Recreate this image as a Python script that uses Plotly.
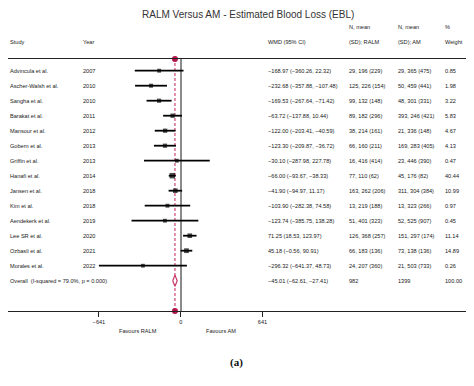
import plotly.graph_objects as go

# ---------------- data ----------------
studies = ["Advincula et al.", "Ascher-Walsh et al.", "Sangha et al.", "Barakat et al.",
           "Mansour et al.", "Gobern et al.", "Griffin et al.", "Hanafi et al.",
           "Jansen et al.", "Kim et al.", "Aendekerk et al.", "Lee SR et al.",
           "Ozbasli et al.", "Morales et al."]
years = ["2007", "2010", "2010", "2011", "2012", "2013", "2013", "2014",
         "2018", "2018", "2019", "2020", "2021", "2022"]
wmd = [-168.97, -232.68, -169.53, -63.72, -122.00, -123.30, -30.10, -66.00,
       -41.90, -103.90, -123.74, 71.25, 45.18, -296.32]
ci_low = [-360.26, -357.88, -267.64, -137.88, -203.41, -209.87, -287.98, -93.67,
          -94.97, -282.38, -385.75, 18.53, -0.56, -641.37]
ci_high = [22.32, -107.48, -71.42, 10.44, -40.59, -36.72, 227.78, -38.33,
           11.17, 74.58, 138.28, 123.97, 90.91, 48.73]
ralm = ["29, 196 (229)", "125, 226 (154)", "99, 132 (148)", "89, 182 (296)",
        "38, 214 (161)", "66, 160 (211)", "16, 416 (414)", "77, 110 (62)",
        "163, 262 (206)", "13, 219 (188)", "51, 401 (323)", "126, 368 (257)",
        "66, 183 (136)", "24, 207 (360)"]
am = ["29, 365 (475)", "50, 459 (441)", "48, 301 (331)", "393, 246 (421)",
      "21, 336 (148)", "169, 283 (405)", "23, 446 (390)", "45, 176 (82)",
      "311, 304 (384)", "13, 323 (266)", "52, 525 (907)", "151, 297 (174)",
      "73, 138 (136)", "21, 503 (733)"]
weights = [0.85, 1.98, 3.22, 5.83, 4.67, 4.13, 0.47, 40.44, 10.99, 0.97, 0.45,
           11.14, 14.89, 0.26]

overall_label = "Overall  (I-squared = 79.0%, p = 0.000)"
overall_wmd = -45.01
overall_low = -62.61
overall_high = -27.41
overall_ralm = "982"
overall_am = "1399"
overall_weight = "100.00"

tick_vals = [-641.37, 0, 641.37]
tick_text = ["\u2212641", "0", "641"]

title = "RALM Versus AM - Estimated Blood Loss (EBL)"

# ---------------- layout helpers ----------------
# the page body has an 8px margin, so the figure starts at page pixel (8, 8)
OFF = 8
W, H = 466, 370
ML, MR, MT, MB = 0, 0, 51, 67
PW, PH = W - ML - MR, H - MT - MB


def px(x_page):
    return (x_page - OFF - ML) / PW


def py(y_page):
    return (H - MB - (y_page - OFF)) / PH


def fmt(v):
    return f"{v:.2f}".replace("-", "\u2212")


FONT = "Liberation Sans, Arial, sans-serif"
TXT = "#1a1a1a"
FS = 5.6
RED = "#b3144a"
PINK = "#c8366a"

fig = go.Figure()

n = len(studies)
rows = list(range(n))

# CI lines
for i in rows:
    fig.add_trace(go.Scatter(x=[ci_low[i], ci_high[i]], y=[i, i], mode="lines",
                             line=dict(color="black", width=1.8),
                             hoverinfo="skip", showlegend=False))

# boxes
sizes = [3.6 + 0.3 * (w ** 0.5) for w in weights]
fig.add_trace(go.Scatter(x=wmd, y=rows, mode="markers",
                         marker=dict(symbol="square", color="black", size=sizes,
                                     line=dict(width=0)),
                         showlegend=False))

# overall diamond
ov_row = n
dh = 0.37
fig.add_trace(go.Scatter(x=[overall_low, overall_wmd, overall_high, overall_wmd, overall_low],
                         y=[ov_row, ov_row - dh, ov_row, ov_row + dh, ov_row],
                         mode="lines", line=dict(color=PINK, width=1.2),
                         fill="toself", fillcolor="white", showlegend=False))

# dashed overall line
fig.add_shape(type="line", xref="x", yref="paper", x0=overall_wmd, x1=overall_wmd,
              y0=0, y1=1, line=dict(color=PINK, width=1.1, dash="3px,2px"), layer="below")

# red dots top and bottom
fig.add_trace(go.Scatter(x=[overall_wmd, overall_wmd], y=[-0.78, 16.02], mode="markers",
                         marker=dict(color=RED, size=6), cliponaxis=False,
                         showlegend=False))

ann = []


def add_text(x, y, text, yref="y", xanchor="left", size=FS, family=FONT, color=TXT,
             yanchor="middle"):
    ann.append(dict(x=x, y=y, xref="paper", yref=yref, text=text, showarrow=False,
                    xanchor=xanchor, yanchor=yanchor, borderpad=0, borderwidth=0,
                    font=dict(family=family, size=size, color=color)))


col_study, col_year, col_wmd, col_ralm, col_am, col_w = (px(10), px(83), px(267.5),
                                                         px(349), px(397.5), px(445))

for i in rows:
    add_text(col_study, i, studies[i])
    add_text(col_year, i, years[i])
    add_text(col_wmd, i, f"{fmt(wmd[i])} ({fmt(ci_low[i])}, {fmt(ci_high[i])})")
    add_text(col_ralm, i, ralm[i])
    add_text(col_am, i, am[i])
    add_text(col_w, i, f"{weights[i]:.2f}")

add_text(col_study, ov_row, overall_label)
add_text(col_wmd, ov_row, f"{fmt(overall_wmd)} ({fmt(overall_low)}, {fmt(overall_high)})")
add_text(col_ralm, ov_row, overall_ralm)
add_text(col_am, ov_row, overall_am)
add_text(col_w, ov_row, overall_weight)

# headers
hy1, hy2 = py(26.5), py(42)
add_text(col_study, hy2, "Study", yref="paper")
add_text(col_year, hy2, "Year", yref="paper")
add_text(col_wmd, hy2, "WMD (95% CI)", yref="paper")
add_text(col_ralm, hy1, "N, mean", yref="paper")
add_text(col_ralm, hy2, "(SD); RALM", yref="paper")
add_text(col_am, hy1, "N, mean", yref="paper")
add_text(col_am, hy2, "(SD); AM", yref="paper")
add_text(col_w, hy1, "%", yref="paper")
add_text(col_w, hy2, "Weight", yref="paper")

# favours labels
add_text(px(138), py(331), "Favours RALM", yref="paper", xanchor="center")
add_text(px(221), py(331), "Favours AM", yref="paper", xanchor="center")

# title (kept fully visible at the top)
add_text(px(248), py(OFF + 1), title, yref="paper", xanchor="center", size=10,
         color="#333333", yanchor="top")

# (a)
add_text(px(236.5), py(362), "<b>(a)</b>", yref="paper", xanchor="center", size=11,
         family="Liberation Serif, Times New Roman, serif", color="#111111")

fig.update_layout(
    width=W, height=H,
    margin=dict(l=ML, r=MR, t=MT, b=MB, pad=0),
    paper_bgcolor="white", plot_bgcolor="white",
    annotations=ann,
    showlegend=False,
    xaxis=dict(range=[-1354.5, 2300.4], showgrid=False, zeroline=True,
               zerolinecolor="#8a8a8a", zerolinewidth=1.8,
               showline=True, linecolor="#222222", linewidth=1, mirror=True,
               ticks="outside", ticklen=5, tickcolor="#222222", tickwidth=1,
               tickvals=tick_vals, ticktext=tick_text,
               tickfont=dict(family=FONT, size=FS, color=TXT), fixedrange=True),
    yaxis=dict(range=[16.02, -0.78], showgrid=False, zeroline=False, showline=False,
               showticklabels=False, ticks="", fixedrange=True),
)

fig.write_html("out.html")
